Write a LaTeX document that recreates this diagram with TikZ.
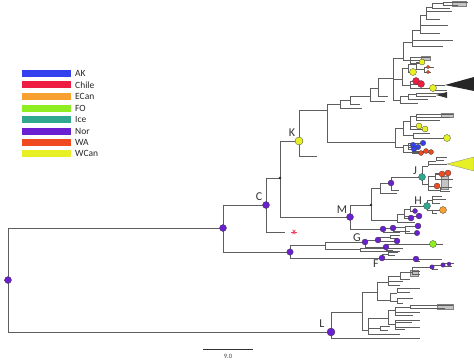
\documentclass[tikz,border=0pt]{standalone}
\usepackage{fontspec}
\setmainfont{Carlito}
\definecolor{ak}{HTML}{3340EE}
\definecolor{chile}{HTML}{EE1C40}
\definecolor{ecan}{HTML}{F8A030}
\definecolor{fo}{HTML}{8EEE22}
\definecolor{ice}{HTML}{30A890}
\definecolor{nor}{HTML}{6A1FD0}
\definecolor{wa}{HTML}{F04A20}
\definecolor{wcan}{HTML}{E6F024}
\definecolor{linegray}{HTML}{5E5E5E}
\definecolor{boxgray}{HTML}{C4C4C4}
\tikzset{
  br/.style={draw=linegray, line width=0.95pt},
  fine/.style={draw=linegray, line width=0.55pt},
  dot/.style={circle, draw=black!75, line width=0.3pt, inner sep=0pt, minimum size=#1},
  dot/.default=6.5pt,
  bdot/.style={circle, fill=black!85, inner sep=0pt, minimum size=2.6pt},
  lab/.style={font=\fontsize{12}{12}\selectfont, text=black!80, inner sep=0pt},
  legtxt/.style={font=\fontsize{9.5}{10}\selectfont, text=black!85, anchor=west, inner sep=0pt},
  legbar/.style={draw=none, minimum width=49pt, minimum height=7pt, inner sep=0pt},
  gbox/.style={fill=boxgray, draw=gray, line width=0.3pt}
}
\begin{document}
\begin{tikzpicture}[x=1pt,y=-1pt]
\useasboundingbox (0,0) rectangle (474,361);
% ---------- coordinates: backbone
\coordinate (Rs) at (4,280);
\coordinate (R) at (8,280);
\coordinate (A1) at (223,228);
\coordinate (L) at (331,332);
\coordinate (C) at (266,205);
\coordinate (B) at (290,252);
\coordinate (P) at (280,178);
\coordinate (T) at (285,232);
\coordinate (star) at (294,232);
\coordinate (K) at (299,141);
\coordinate (M) at (350,217);
\coordinate (K1) at (327,110);
\coordinate (Kt) at (317,156);
% K upper comb
\coordinate (V) at (340,104);
\coordinate (Vt1) at (362,108);
\coordinate (V1) at (350,100);
\coordinate (Vt2) at (360,104);
\coordinate (V2) at (370,96);
\coordinate (Vt3) at (385,101);
\coordinate (U0) at (378,88);
\coordinate (Ut1) at (388,96);
\coordinate (U) at (393,78);
\coordinate (Ua) at (403,58);
\coordinate (Uc) at (402,79);
\coordinate (Ub) at (400,100);
\coordinate (Ua2) at (410,60);
\coordinate (Ua2t1) at (430,57);
\coordinate (Ua2t2) at (425,60);
\coordinate (Ua2t3) at (420,63);
\coordinate (Ua1) at (412,42);
\coordinate (Ua1t1) at (453,40);
\coordinate (Ua1t2) at (443,46);
\coordinate (Ua1a) at (420,30);
\coordinate (Ua1at1) at (448,25);
\coordinate (Ua1at2) at (440,33);
\coordinate (Ua1b) at (426,15);
\coordinate (Ua1bt1) at (452,11);
\coordinate (Ua1bt2) at (440,19);
\coordinate (Ua1c) at (432,7);
\coordinate (Ua1ct1) at (450,8);
\coordinate (Ua1d) at (443,3);
\coordinate (Ua1dt1) at (468,2);
\coordinate (Ua1dt2) at (458,5);
\coordinate (Uc1) at (408,68);
\coordinate (Y1) at (413,72);
\coordinate (Uc1a) at (416,64);
\coordinate (Y2) at (422,62);
\coordinate (Uc1b) at (424,69);
\coordinate (Uc1bt1) at (434,67);
\coordinate (Uc1bt2) at (431,72);
\coordinate (Uc2) at (410,85);
\coordinate (Rd1) at (416,81);
\coordinate (Rd2) at (421,84);
\coordinate (Y3) at (433,88);
\coordinate (Wk) at (445,85);
\coordinate (Wk1) at (474,77);
\coordinate (Wk2) at (474,91);
\coordinate (Y3t) at (447,90);
\coordinate (Ub1) at (408,96);
\coordinate (Ubt1) at (418,103);
\coordinate (Ub2) at (416,94);
\coordinate (Ub1t) at (428,99);
\coordinate (Ub2t1) at (447,93);
\coordinate (Ub2t2) at (436,96);
% Q clade
\coordinate (Q) at (395,142);
\coordinate (Qa) at (403,128);
\coordinate (Qb) at (403,147);
\coordinate (Qa1) at (410,121);
\coordinate (Qa2) at (413,135);
\coordinate (Qa1a) at (416,116);
\coordinate (Qa1at1) at (453,114);
\coordinate (Qa1at2) at (450,117);
\coordinate (Qa1at3) at (440,120);
\coordinate (Yq1) at (419,126);
\coordinate (Yq2) at (425,129);
\coordinate (Yq3) at (447,138);
\coordinate (Qa2t) at (430,133);
\coordinate (Qb1) at (408,145);
\coordinate (Bl1) at (423,143);
\coordinate (Bl2) at (413,145);
\coordinate (Bl3) at (418,147);
\coordinate (Bl4) at (414,149);
\coordinate (Qb2) at (412,152);
\coordinate (Or1) at (421,153);
\coordinate (Or2) at (426,151);
\coordinate (Or3) at (431,152);
% M clade
\coordinate (M1) at (371,205);
\coordinate (Jp) at (380,188);
\coordinate (Jpt) at (397,193);
\coordinate (N1) at (391,183);
\coordinate (N1t) at (399,190);
\coordinate (J) at (422,177);
\coordinate (Ja) at (428,166);
\coordinate (Ja1) at (436,161);
\coordinate (Ja1t1) at (447,157);
\coordinate (Ja1t2) at (444,160);
\coordinate (Wy) at (447,164);
\coordinate (Wy1) at (474,157);
\coordinate (Wy2) at (474,171);
\coordinate (Jb) at (428,184);
\coordinate (Jb1) at (435,176);
\coordinate (Jr1) at (442,174);
\coordinate (Jr2) at (448,173);
\coordinate (Jb1t) at (453,179);
\coordinate (Jr) at (437,186);
\coordinate (Jb2) at (440,190);
\coordinate (Jb2t1) at (452,187);
\coordinate (Jb2t2) at (450,191);
\coordinate (Hp) at (397,220);
\coordinate (Hpt) at (415,222);
\coordinate (Hq) at (404,214);
\coordinate (Hr) at (410,209);
\coordinate (Hd1) at (411,218);
\coordinate (Hd2) at (419,216);
\coordinate (Hd3) at (415,211);
\coordinate (H) at (427,206);
\coordinate (Ha) at (432,200);
\coordinate (Hat1) at (442,196);
\coordinate (Hat2) at (446,199);
\coordinate (Hat3) at (440,203);
\coordinate (Hb) at (432,210);
\coordinate (Ho) at (443,210);
\coordinate (Hbt) at (437,213);
\coordinate (Mb1) at (383,229);
\coordinate (Mb1t) at (400,232);
\coordinate (Mb2) at (393,228);
\coordinate (Mb2t) at (410,231);
\coordinate (Mb3) at (405,227);
\coordinate (Md1) at (418,226);
\coordinate (Md2) at (417,233);
% G / F
\coordinate (Gq) at (325,245);
\coordinate (G) at (365,242);
\coordinate (Gl) at (360,249);
\coordinate (Glt1) at (403,248);
\coordinate (Glt2) at (400,251);
\coordinate (Ga) at (378,240);
\coordinate (Ga1) at (390,237);
\coordinate (Ga1t1) at (400,235);
\coordinate (Ga1t2) at (398,238);
\coordinate (Gd) at (397,241);
\coordinate (Gb) at (386,247);
\coordinate (Gg) at (443,244);
\coordinate (Gfo) at (433,244);
\coordinate (Gbt) at (393,250);
\coordinate (F) at (382,258);
\coordinate (Fa) at (388,254);
\coordinate (Fat1) at (398,252);
\coordinate (Fat2) at (395,255);
\coordinate (Fc) at (416,259);
\coordinate (Fct1) at (442,259);
\coordinate (Fct2) at (420,261);
% L clade
\coordinate (Lu) at (362,312);
\coordinate (Ll) at (420,338);
\coordinate (Lv) at (377,292);
\coordinate (Lw) at (368,330);
\coordinate (Lv1) at (388,282);
\coordinate (Lv1t1) at (403,281);
\coordinate (Lv1t2) at (400,285);
\coordinate (Lv1a) at (400,276);
\coordinate (Lv1at) at (410,279);
\coordinate (Lv1b) at (412,272);
\coordinate (Lv1bt1) at (420,271);
\coordinate (Lv1bt2) at (420,274);
\coordinate (Ch1) at (432,267);
\coordinate (Ch1t) at (438,269);
\coordinate (Ch2) at (443,265);
\coordinate (Ch2t1) at (454,263);
\coordinate (Ch2t2) at (452,266);
\coordinate (Lv2) at (390,300);
\coordinate (Lv2a) at (397,293);
\coordinate (Lv2at1) at (420,288);
\coordinate (Lv2at2) at (410,292);
\coordinate (Lv2b) at (397,301);
\coordinate (Lv2bt1) at (413,298);
\coordinate (Lv2bt2) at (403,303);
\coordinate (Lw1) at (388,318);
\coordinate (Lw2) at (380,328);
\coordinate (Lwt) at (400,334);
\coordinate (Lw2t1) at (390,326);
\coordinate (Lw2t2) at (388,330);
\coordinate (Lw1a) at (395,310);
\coordinate (Lw1at1) at (420,312);
\coordinate (Lw1at2) at (413,315);
\coordinate (Lw1c) at (410,307);
\coordinate (Lw1ct1) at (453,305);
\coordinate (Lw1ct2) at (445,308);
\coordinate (Lw1b) at (395,324);
\coordinate (Lw1bt1) at (420,320);
\coordinate (Lw1bt2) at (420,327);
\coordinate (Lw1bt3) at (412,322);
\coordinate (Lw1bt4) at (405,329);
% ---------- grey collapsed boxes
\filldraw[gbox] (452,1) rectangle (466,6);
\filldraw[gbox] (421,56) rectangle (430,60);
\filldraw[gbox] (441,113) rectangle (453,117);
\filldraw[gbox] (441,176) rectangle (448,189);
\filldraw[gbox] (410,270) rectangle (418,276);
\filldraw[gbox] (437,304) rectangle (453,309);
% ---------- branches
\draw[br] (R) -- (Rs);
\foreach \p/\c in {R/A1, R/L, A1/C, A1/B, C/P, C/T, P/K, P/M, K/K1, K/Kt,
  K1/V, K1/Q, M/M1, M/Mb1, M1/Jp, M1/Hp, B/Gq, B/F, Gq/G, Gq/Gl,
  L/Lu, L/Ll, Lu/Lv, Lu/Lw, Q/Qa, Q/Qb, V/V1, V1/V2, V2/U0, U0/U,
  U/Ua, U/Uc, U/Ub, Ua/Ua1, Jp/N1, N1/J, Hp/Hq, Mb1/Mb2, G/Ga, G/Gb,
  F/Fc, Fc/Fct1, Gb/Gg, Lv/Lv1, Lv/Lv2, Lw/Lw1, Lw/Lwt}
  \draw[br] (\p) |- (\c);
\foreach \p/\c in {V/Vt1, V1/Vt2, V2/Vt3, U0/Ut1,
  Ua/Ua2, Ua2/Ua2t1, Ua2/Ua2t2, Ua2/Ua2t3,
  Ua1/Ua1a, Ua1/Ua1t1, Ua1/Ua1t2, Ua1a/Ua1b, Ua1a/Ua1at1, Ua1a/Ua1at2,
  Ua1b/Ua1c, Ua1b/Ua1bt1, Ua1b/Ua1bt2, Ua1c/Ua1d, Ua1c/Ua1ct1,
  Ua1d/Ua1dt1, Ua1d/Ua1dt2,
  Uc/Uc1, Uc/Uc2, Uc1/Y1, Uc1/Uc1a, Uc1a/Y2, Uc1a/Uc1b,
  Uc1b/Uc1bt1, Uc1b/Uc1bt2, Uc2/Rd1, Uc2/Rd2, Uc2/Y3, Y3/Wk, Y3/Y3t,
  Ub/Ub1, Ub/Ubt1, Ub1/Ub2, Ub1/Ub1t, Ub2/Ub2t1, Ub2/Ub2t2,
  Qa/Qa1, Qa/Qa2, Qa1/Qa1a, Qa1/Yq1, Qa1/Yq2,
  Qa1a/Qa1at1, Qa1a/Qa1at2, Qa1a/Qa1at3, Qa2/Yq3, Qa2/Qa2t,
  Qb/Qb1, Qb/Qb2, Qb1/Bl1, Qb1/Bl2, Qb1/Bl3, Qb1/Bl4,
  Qb2/Or1, Qb2/Or2, Qb2/Or3,
  Jp/Jpt, N1/N1t, J/Ja, J/Jb, Ja/Ja1, Ja/Wy, Ja1/Ja1t1, Ja1/Ja1t2,
  Jb/Jb1, Jb/Jr, Jb/Jb2, Jb1/Jr1, Jb1/Jr2, Jb1/Jb1t, Jb2/Jb2t1, Jb2/Jb2t2,
  Hp/Hpt, Hq/Hr, Hq/Hd1, Hq/Hd2, Hr/Hd3, Hr/H, H/Ha, H/Hb,
  Ha/Hat1, Ha/Hat2, Ha/Hat3, Hb/Ho, Hb/Hbt,
  Mb1/Mb1t, Mb2/Mb3, Mb2/Mb2t, Mb3/Md1, Mb3/Md2,
  Gl/Glt1, Gl/Glt2, Ga/Ga1, Ga/Gd, Ga1/Ga1t1, Ga1/Ga1t2, Gb/Gbt,
  F/Fa, Fa/Fat1, Fa/Fat2, Fc/Fct2,
  Lv1/Lv1a, Lv1/Lv1t1, Lv1/Lv1t2, Lv1a/Lv1b, Lv1a/Lv1at,
  Lv1b/Ch1, Lv1b/Lv1bt1, Lv1b/Lv1bt2, Ch1/Ch2, Ch1/Ch1t, Ch2/Ch2t1, Ch2/Ch2t2,
  Lv2/Lv2a, Lv2/Lv2b, Lv2a/Lv2at1, Lv2a/Lv2at2, Lv2b/Lv2bt1, Lv2b/Lv2bt2,
  Lw/Lw2, Lw2/Lw2t1, Lw2/Lw2t2, Lw1/Lw1a, Lw1/Lw1b,
  Lw1a/Lw1c, Lw1a/Lw1at1, Lw1a/Lw1at2, Lw1c/Lw1ct1, Lw1c/Lw1ct2,
  Lw1b/Lw1bt1, Lw1b/Lw1bt2, Lw1b/Lw1bt3, Lw1b/Lw1bt4}
  \draw[fine] (\p) |- (\c);
% ---------- collapsed wedges
\fill[black!85] (Wk) -- (Wk1) -- (Wk2) -- cycle;
\filldraw[fill=wcan, draw=black!50, line width=0.3pt] (Wy) -- (Wy1) -- (Wy2) -- cycle;
\fill[black!80] (436,95) -- (447,92) -- (447,98) -- cycle;
% ---------- star
\foreach \a in {0,60,120}
  \draw[chile!85!white, line width=0.8pt] ([shift={(\a:2.6)}]star) -- ([shift={(\a+180:2.6)}]star);
% ---------- dots
\node[dot=7pt, fill=nor] (dR) at (R) {};
\node[dot=7pt, fill=nor] (dA1) at (A1) {};
\node[dot=7pt, fill=nor] (dC) at (C) {};
\node[dot=6.5pt, fill=nor] (dB) at (B) {};
\node[bdot] (dP) at (P) {};
\node[dot=8pt, fill=wcan] (dK) at (K) {};
\node[dot=7pt, fill=nor] (dM) at (M) {};
\node[bdot] (dM1) at (M1) {};
\node[dot=8pt, fill=nor] (dL) at (L) {};
\node[dot=7pt, fill=wcan] (dY1) at (Y1) {};
\node[dot=6pt, fill=wcan] (dY2) at (Y2) {};
\node[dot=3.5pt, fill=wa] (dw1) at (428,67) {};
\node[dot=3.5pt, fill=wa] (dw2) at (428,72) {};
\node[dot=7pt, fill=chile] (dRd1) at (Rd1) {};
\node[dot=7pt, fill=chile] (dRd2) at (Rd2) {};
\node[dot=7pt, fill=wcan] (dY3) at (Y3) {};
\node[dot=6pt, fill=wcan] (dYq1) at (Yq1) {};
\node[dot=6pt, fill=wcan] (dYq2) at (Yq2) {};
\node[dot=7pt, fill=wcan] (dYq3) at (Yq3) {};
\node[dot=5.5pt, fill=ak] (dBl1) at (Bl1) {};
\node[dot=5.5pt, fill=ak] (dBl2) at (Bl2) {};
\node[dot=5.5pt, fill=ak] (dBl3) at (Bl3) {};
\node[dot=5.5pt, fill=ak] (dBl4) at (Bl4) {};
\node[dot=5pt, fill=wa] (dOr1) at (Or1) {};
\node[dot=5pt, fill=wa] (dOr2) at (Or2) {};
\node[dot=5pt, fill=wa] (dOr3) at (Or3) {};
\node[dot=6pt, fill=nor] (dN1) at (N1) {};
\node[dot=7pt, fill=ice] (dJ) at (J) {};
\node[dot=6pt, fill=wa] (dJr1) at (Jr1) {};
\node[dot=6pt, fill=wa] (dJr2) at (Jr2) {};
\node[dot=6pt, fill=wa] (dJr) at (Jr) {};
\node[dot=7pt, fill=ice] (dH) at (H) {};
\node[dot=6pt, fill=nor] (dHd1) at (Hd1) {};
\node[dot=6pt, fill=nor] (dHd2) at (Hd2) {};
\node[dot=5pt, fill=nor] (dHd3) at (Hd3) {};
\node[dot=7pt, fill=ecan] (dHo) at (Ho) {};
\node[dot=6pt, fill=nor] (dMb1) at (Mb1) {};
\node[dot=6pt, fill=nor] (dMb2) at (Mb2) {};
\node[dot=6pt, fill=nor] (dMd1) at (Md1) {};
\node[dot=5.5pt, fill=nor] (dMd2) at (Md2) {};
\node[dot=6pt, fill=nor] (dG) at (G) {};
\node[dot=6pt, fill=nor] (dGa) at (Ga) {};
\node[dot=6pt, fill=nor] (dGd) at (Gd) {};
\node[dot=6pt, fill=nor] (dGb) at (Gb) {};
\node[dot=7pt, fill=fo] (dGfo) at (Gfo) {};
\node[dot=6pt, fill=nor] (dF) at (F) {};
\node[dot=6pt, fill=nor] (dFc) at (Fc) {};
\node[dot=4.5pt, fill=nor] (dCh1) at (Ch1) {};
\node[dot=4.5pt, fill=nor] (dCh2) at (Ch2) {};
\node[dot=4pt, fill=nor] (dCh3) at (449,264) {};
% ---------- clade labels
\node[lab] (lK) at (292,133) {K};
\node[lab] (lC) at (259,197) {C};
\node[lab] (lM) at (342,210) {M};
\node[lab] (lG) at (357,238) {G};
\node[lab] (lF) at (376,264) {F};
\node[lab] (lH) at (418,201) {H};
\node[lab] (lJ) at (415,171) {J};
\node[lab] (lL) at (322,324) {L};
% ---------- legend
\foreach \n/\col/\yy in {AK/ak/73.5, Chile/chile/85, ECan/ecan/96.5, FO/fo/108,
  Ice/ice/119.5, Nor/nor/131, WA/wa/142, WCan/wcan/153.5} {
  \node[legbar, fill=\col] (bar\n) at (46.5,\yy) {};
  \node[legtxt] (txt\n) at (75,\yy) {\n};
}
% ---------- scale bar
\coordinate (sb1) at (203,349);
\coordinate (sb2) at (253,349);
\draw[line width=0.8pt, black!80] (sb1) -- (sb2);
\node[font=\fontsize{6.5}{7}\selectfont, text=black!75, inner sep=0pt] (sbl) at (228,356) {9.0};
\end{tikzpicture}
\end{document}
